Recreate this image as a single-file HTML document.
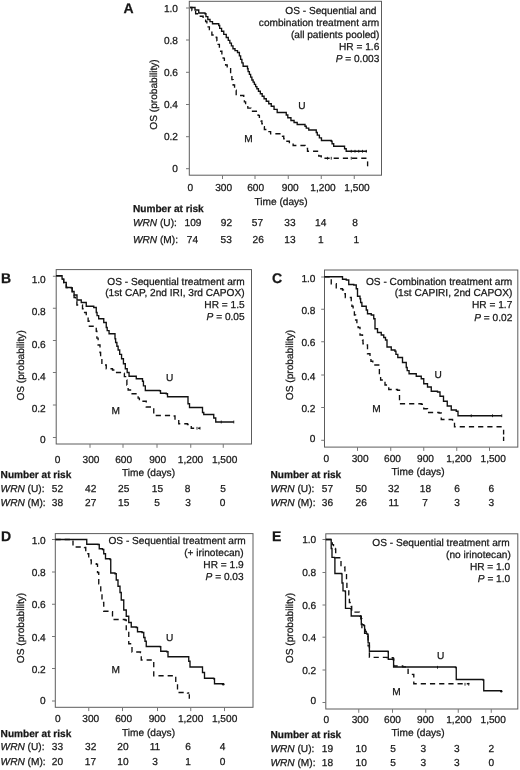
<!DOCTYPE html>
<html lang="en"><head><meta charset="utf-8"><title>OS Kaplan-Meier curves by WRN methylation status</title>
<style>
html,body{margin:0;padding:0;background:#fff;}
svg{display:block;}
svg text{font-family:"Liberation Sans",sans-serif;fill:#171717;stroke:#171717;stroke-width:0.25px;text-rendering:geometricPrecision;}
</style></head><body>
<svg width="520" height="770" viewBox="0 0 520 770">
<rect width="520" height="770" fill="#fff"/>
<rect x="189.3" y="1.3" width="192.2" height="173.89999999999998" fill="none" stroke="#5c5c5c" stroke-width="1"/>
<line x1="186.0" y1="8" x2="189.3" y2="8" stroke="#777" stroke-width="1"/>
<text x="178" y="11.6" text-anchor="end" font-size="10.15" font-weight="normal" >1.0</text>
<line x1="186.0" y1="40" x2="189.3" y2="40" stroke="#777" stroke-width="1"/>
<text x="178" y="43.6" text-anchor="end" font-size="10.15" font-weight="normal" >0.8</text>
<line x1="186.0" y1="72.3" x2="189.3" y2="72.3" stroke="#777" stroke-width="1"/>
<text x="178" y="75.89999999999999" text-anchor="end" font-size="10.15" font-weight="normal" >0.6</text>
<line x1="186.0" y1="104.5" x2="189.3" y2="104.5" stroke="#777" stroke-width="1"/>
<text x="178" y="108.1" text-anchor="end" font-size="10.15" font-weight="normal" >0.4</text>
<line x1="186.0" y1="136.7" x2="189.3" y2="136.7" stroke="#777" stroke-width="1"/>
<text x="178" y="140.29999999999998" text-anchor="end" font-size="10.15" font-weight="normal" >0.2</text>
<line x1="186.0" y1="168.7" x2="189.3" y2="168.7" stroke="#777" stroke-width="1"/>
<text x="178" y="172.29999999999998" text-anchor="end" font-size="10.15" font-weight="normal" >0</text>
<text x="190.3" y="190.5" text-anchor="middle" font-size="10.15" font-weight="normal" >0</text>
<line x1="222.5" y1="175.2" x2="222.5" y2="179.0" stroke="#777" stroke-width="1"/>
<text x="223.7" y="190.5" text-anchor="middle" font-size="10.15" font-weight="normal" >300</text>
<line x1="255" y1="175.2" x2="255" y2="179.0" stroke="#777" stroke-width="1"/>
<text x="255.7" y="190.5" text-anchor="middle" font-size="10.15" font-weight="normal" >600</text>
<line x1="288.25" y1="175.2" x2="288.25" y2="179.0" stroke="#777" stroke-width="1"/>
<text x="290.3" y="190.5" text-anchor="middle" font-size="10.15" font-weight="normal" >900</text>
<line x1="321.25" y1="175.2" x2="321.25" y2="179.0" stroke="#777" stroke-width="1"/>
<text x="323" y="190.5" text-anchor="middle" font-size="10.15" font-weight="normal" >1,200</text>
<line x1="354.25" y1="175.2" x2="354.25" y2="179.0" stroke="#777" stroke-width="1"/>
<text x="357" y="190.5" text-anchor="middle" font-size="10.15" font-weight="normal" >1,500</text>
<text x="281" y="204.5" text-anchor="middle" font-size="10.15" font-weight="normal" >Time (days)</text>
<text transform="translate(157,94.5) rotate(-90)" text-anchor="middle" font-size="10.15">OS (probability)</text>
<text x="123.5" y="13.2" text-anchor="start" font-size="14" font-weight="bold" >A</text>
<text x="379.3" y="13.75" text-anchor="end" font-size="10.15" font-weight="normal" >OS - Sequential and&#160;</text>
<text x="379.3" y="25.75" text-anchor="end" font-size="10.15" font-weight="normal" >combination treatment arm</text>
<text x="379.3" y="38" text-anchor="end" font-size="10.15" font-weight="normal" >(all patients pooled)</text>
<text x="379.3" y="49.75" text-anchor="end" font-size="10.15" font-weight="normal" >HR = 1.6</text>
<text x="379.3" y="61.75" text-anchor="end" font-size="10.15" font-weight="normal" ><tspan font-style="italic">P</tspan> = 0.003</text>
<text x="133" y="211.75" text-anchor="start" font-size="10.1" font-weight="bold" >Number at risk</text>
<text x="133" y="225.5" text-anchor="start" font-size="10.15" font-weight="normal" ><tspan font-style="italic">WRN</tspan> (U):</text>
<text x="193" y="225.5" text-anchor="middle" font-size="10.15" font-weight="normal" >109</text>
<text x="226.5" y="225.5" text-anchor="middle" font-size="10.15" font-weight="normal" >92</text>
<text x="257.5" y="225.5" text-anchor="middle" font-size="10.15" font-weight="normal" >57</text>
<text x="290" y="225.5" text-anchor="middle" font-size="10.15" font-weight="normal" >33</text>
<text x="320.75" y="225.5" text-anchor="middle" font-size="10.15" font-weight="normal" >14</text>
<text x="355" y="225.5" text-anchor="middle" font-size="10.15" font-weight="normal" >8</text>
<text x="133" y="242.5" text-anchor="start" font-size="10.15" font-weight="normal" ><tspan font-style="italic">WRN</tspan> (M):</text>
<text x="192.5" y="242.5" text-anchor="middle" font-size="10.15" font-weight="normal" >74</text>
<text x="226.25" y="242.5" text-anchor="middle" font-size="10.15" font-weight="normal" >53</text>
<text x="258.25" y="242.5" text-anchor="middle" font-size="10.15" font-weight="normal" >26</text>
<text x="290" y="242.5" text-anchor="middle" font-size="10.15" font-weight="normal" >13</text>
<text x="320.75" y="242.5" text-anchor="middle" font-size="10.15" font-weight="normal" >1</text>
<text x="356.25" y="242.5" text-anchor="middle" font-size="10.15" font-weight="normal" >1</text>
<text x="302" y="108.8" text-anchor="middle" font-size="10.15" font-weight="normal" >U</text>
<text x="248.5" y="141.8" text-anchor="middle" font-size="10.15" font-weight="normal" >M</text>
<path d="M190.00,7.50 H195.00 V10.00 H198.75 V13.00 H205.00 V13.75 H205.94 V16.62 H207.81 V19.50 H208.75 H210.00 V21.62 H212.50 V23.75 H213.75 H218.75 V25.50 H219.69 V28.38 H221.56 V31.25 H222.50 H223.75 V34.38 H226.25 V37.50 H227.50 H228.28 V40.31 H229.84 V43.12 H231.41 V45.94 H232.97 V48.75 H233.75 H235.00 V50.62 H237.50 V52.50 H238.75 H239.38 V55.94 H240.62 V59.38 H241.88 V62.81 H243.12 V66.25 H243.75 H247.50 V68.75 H248.12 V71.56 H249.38 V74.38 H250.62 V77.19 H251.88 V80.00 H252.50 H253.12 V82.19 H254.38 V84.38 H255.62 V86.56 H256.88 V88.75 H257.50 H258.44 V91.25 H260.31 V93.75 H262.19 V96.25 H264.06 V98.75 H265.00 H266.25 V101.25 H268.75 V103.75 H271.25 V106.25 H272.50 H274.06 V109.38 H277.19 V112.50 H278.75 H286.25 V115.00 H287.81 V117.75 H290.94 V120.50 H292.50 H294.06 V122.50 H297.19 V124.50 H298.75 H305.00 V126.25 H306.25 V128.12 H308.75 V130.00 H310.00 H316.25 V132.50 H317.29 V135.17 H319.38 V137.83 H321.46 V140.50 H322.50 H331.25 V141.25 H332.06 V143.75 H333.69 V146.25 H334.50 H343.75 V146.25 H344.56 V148.75 H346.19 V151.25 H347.00 H367.00 V151.25" fill="none" stroke="#111" stroke-width="1.35" stroke-linejoin="miter"/>
<path d="M190.00,7.50 H191.88 V10.62 H195.62 V13.75 H197.50 H199.38 V16.25 H203.12 V18.75 H205.00 H205.62 V21.46 H206.88 V24.17 H208.12 V26.88 H209.38 V29.58 H210.62 V32.29 H211.88 V35.00 H212.50 H216.25 V37.50 H216.88 V40.94 H218.12 V44.38 H219.38 V47.81 H220.62 V51.25 H221.25 H221.88 V54.69 H223.12 V58.12 H224.38 V61.56 H225.62 V65.00 H226.25 H227.19 V66.88 H229.06 V68.75 H230.00 H230.62 V74.17 H231.88 V79.58 H233.12 V85.00 H233.75 H234.56 V90.25 H236.19 V95.50 H237.00 H243.75 V98.75 H244.38 V101.88 H245.62 V105.00 H246.25 H247.81 V108.12 H250.94 V111.25 H252.50 H257.50 V112.50 H258.12 V115.31 H259.38 V118.12 H260.62 V120.94 H261.88 V123.75 H262.50 H263.12 V126.62 H264.38 V129.50 H265.00 H266.88 V131.62 H270.62 V133.75 H272.50 H282.50 V136.25 H283.75 V138.75 H286.25 V141.25 H287.50 H289.38 V143.38 H293.12 V145.50 H295.00 H303.75 V145.50 H305.00 V148.38 H307.50 V151.25 H308.75 H317.50 V153.75 H318.75 V156.00 H321.25 V158.25 H322.50 H367.50 V158.25" fill="none" stroke="#111" stroke-width="1.35" stroke-linejoin="miter" stroke-dasharray="5.2 4"/>
<line x1="351.25" y1="149.85" x2="351.25" y2="152.65" stroke="#111" stroke-width="0.9"/>
<line x1="355" y1="149.85" x2="355" y2="152.65" stroke="#111" stroke-width="0.9"/>
<line x1="358.75" y1="149.85" x2="358.75" y2="152.65" stroke="#111" stroke-width="0.9"/>
<line x1="362.5" y1="149.85" x2="362.5" y2="152.65" stroke="#111" stroke-width="0.9"/>
<line x1="366.25" y1="149.85" x2="366.25" y2="152.65" stroke="#111" stroke-width="0.9"/>
<line x1="327.5" y1="156.85" x2="327.5" y2="159.65" stroke="#111" stroke-width="0.9"/>
<line x1="331.25" y1="156.85" x2="331.25" y2="159.65" stroke="#111" stroke-width="0.9"/>
<line x1="351.25" y1="156.85" x2="351.25" y2="159.65" stroke="#111" stroke-width="0.9"/>
<line x1="367.6" y1="161.4" x2="367.6" y2="166.3" stroke="#111" stroke-width="1.35"/>
<rect x="56.2" y="269.6" width="195.3" height="174.39999999999998" fill="none" stroke="#5c5c5c" stroke-width="1"/>
<line x1="52.900000000000006" y1="276.25" x2="56.2" y2="276.25" stroke="#777" stroke-width="1"/>
<text x="45.75" y="283.45000000000005" text-anchor="end" font-size="10.15" font-weight="normal" >1.0</text>
<line x1="52.900000000000006" y1="308.25" x2="56.2" y2="308.25" stroke="#777" stroke-width="1"/>
<text x="45.75" y="315.45000000000005" text-anchor="end" font-size="10.15" font-weight="normal" >0.8</text>
<line x1="52.900000000000006" y1="340.5" x2="56.2" y2="340.5" stroke="#777" stroke-width="1"/>
<text x="45.75" y="347.70000000000005" text-anchor="end" font-size="10.15" font-weight="normal" >0.6</text>
<line x1="52.900000000000006" y1="372.5" x2="56.2" y2="372.5" stroke="#777" stroke-width="1"/>
<text x="45.75" y="379.70000000000005" text-anchor="end" font-size="10.15" font-weight="normal" >0.4</text>
<line x1="52.900000000000006" y1="405" x2="56.2" y2="405" stroke="#777" stroke-width="1"/>
<text x="45.75" y="412.20000000000005" text-anchor="end" font-size="10.15" font-weight="normal" >0.2</text>
<line x1="52.900000000000006" y1="437.5" x2="56.2" y2="437.5" stroke="#777" stroke-width="1"/>
<text x="45.75" y="443.20000000000005" text-anchor="end" font-size="10.15" font-weight="normal" >0</text>
<text x="57.6" y="462.7" text-anchor="middle" font-size="10.15" font-weight="normal" >0</text>
<line x1="90" y1="444" x2="90" y2="447.8" stroke="#777" stroke-width="1"/>
<text x="91" y="462.7" text-anchor="middle" font-size="10.15" font-weight="normal" >300</text>
<line x1="123" y1="444" x2="123" y2="447.8" stroke="#777" stroke-width="1"/>
<text x="123.6" y="462.7" text-anchor="middle" font-size="10.15" font-weight="normal" >600</text>
<line x1="157" y1="444" x2="157" y2="447.8" stroke="#777" stroke-width="1"/>
<text x="157.7" y="462.7" text-anchor="middle" font-size="10.15" font-weight="normal" >900</text>
<line x1="190.75" y1="444" x2="190.75" y2="447.8" stroke="#777" stroke-width="1"/>
<text x="190.5" y="462.7" text-anchor="middle" font-size="10.15" font-weight="normal" >1,200</text>
<line x1="223.25" y1="444" x2="223.25" y2="447.8" stroke="#777" stroke-width="1"/>
<text x="224.6" y="462.7" text-anchor="middle" font-size="10.15" font-weight="normal" >1,500</text>
<text x="148.5" y="476.25" text-anchor="middle" font-size="10.15" font-weight="normal" >Time (days)</text>
<text transform="translate(24.2,365.4) rotate(-90)" text-anchor="middle" font-size="10.15">OS (probability)</text>
<text x="1" y="282.7" text-anchor="start" font-size="14" font-weight="bold" >B</text>
<text x="244.6" y="284.6" text-anchor="end" font-size="10.15" font-weight="normal" >OS - Sequential treatment arm</text>
<text x="244.6" y="296" text-anchor="end" font-size="10.15" font-weight="normal" >(1st CAP, 2nd IRI, 3rd CAPOX)</text>
<text x="244.6" y="308.4" text-anchor="end" font-size="10.15" font-weight="normal" >HR = 1.5</text>
<text x="244.6" y="320.25" text-anchor="end" font-size="10.15" font-weight="normal" ><tspan font-style="italic">P</tspan> = 0.05</text>
<text x="0.6" y="477.5" text-anchor="start" font-size="10.1" font-weight="bold" >Number at risk</text>
<text x="0.6" y="491.7" text-anchor="start" font-size="10.15" font-weight="normal" ><tspan font-style="italic">WRN</tspan> (U):</text>
<text x="57.5" y="491.7" text-anchor="middle" font-size="10.15" font-weight="normal" >52</text>
<text x="90.75" y="491.7" text-anchor="middle" font-size="10.15" font-weight="normal" >42</text>
<text x="123.75" y="491.7" text-anchor="middle" font-size="10.15" font-weight="normal" >25</text>
<text x="157.5" y="491.7" text-anchor="middle" font-size="10.15" font-weight="normal" >15</text>
<text x="187.5" y="491.7" text-anchor="middle" font-size="10.15" font-weight="normal" >8</text>
<text x="223" y="491.7" text-anchor="middle" font-size="10.15" font-weight="normal" >5</text>
<text x="0.6" y="505.5" text-anchor="start" font-size="10.15" font-weight="normal" ><tspan font-style="italic">WRN</tspan> (M):</text>
<text x="57.5" y="505.5" text-anchor="middle" font-size="10.15" font-weight="normal" >38</text>
<text x="90.75" y="505.5" text-anchor="middle" font-size="10.15" font-weight="normal" >27</text>
<text x="123.75" y="505.5" text-anchor="middle" font-size="10.15" font-weight="normal" >15</text>
<text x="157" y="505.5" text-anchor="middle" font-size="10.15" font-weight="normal" >5</text>
<text x="188" y="505.5" text-anchor="middle" font-size="10.15" font-weight="normal" >3</text>
<text x="222.5" y="505.5" text-anchor="middle" font-size="10.15" font-weight="normal" >0</text>
<text x="169.6" y="381.25" text-anchor="middle" font-size="10.15" font-weight="normal" >U</text>
<text x="115.7" y="413.75" text-anchor="middle" font-size="10.15" font-weight="normal" >M</text>
<path d="M56.25,275.75 H61.25 V275.75 H62.06 V279.12 H63.69 V282.50 H64.50 H66.25 V287.50 H71.25 V288.00 H72.19 V291.50 H74.06 V295.00 H75.00 H77.00 V300.00 H81.25 V302.50 H86.25 V306.25 H93.75 V307.50 H96.25 V312.50 H97.06 V315.62 H98.69 V318.75 H99.50 H103.75 V322.50 H106.25 V327.50 H107.19 V330.62 H109.06 V333.75 H110.00 H115.00 V338.75 H115.62 V342.50 H116.88 V346.25 H118.12 V350.00 H118.75 H119.69 V354.38 H121.56 V358.75 H122.50 H123.44 V363.75 H125.31 V368.75 H126.25 H127.19 V372.50 H129.06 V376.25 H130.00 H136.25 V378.75 H142.50 V381.25 H143.44 V385.88 H145.31 V390.50 H146.25 H159.50 V390.75 H160.50 V393.25 H166.25 V393.75 H167.50 V396.75 H187.00 V396.75 H188.00 V403.75 H189.50 V407.50 H200.75 V407.50 H202.50 V412.50 H203.75 V414.50 H212.50 V414.50 H213.75 V418.00 H215.75 V422.00 H233.75 V422.00" fill="none" stroke="#111" stroke-width="1.35" stroke-linejoin="miter"/>
<path d="M56.25,275.75 H61.25 V275.75 H62.06 V279.12 H63.69 V282.50 H64.50 H66.25 V287.50 H71.25 V288.00 H72.19 V292.75 H74.06 V297.50 H75.00 H75.62 V301.25 H76.88 V305.00 H77.50 H82.50 V308.75 H83.75 V312.50 H86.25 V316.25 H87.50 H88.12 V321.25 H89.38 V326.25 H90.00 H96.25 V331.25 H96.88 V338.12 H98.12 V345.00 H98.75 H100.00 V352.50 H100.62 V358.75 H101.88 V365.00 H102.50 H106.25 V368.75 H112.50 V370.00 H113.75 V372.50 H123.75 V373.25 H124.38 V376.62 H125.62 V380.00 H126.25 H126.88 V385.00 H128.12 V390.00 H128.75 H131.25 V393.75 H137.50 V395.00 H138.12 V398.12 H139.38 V401.25 H140.00 H146.25 V407.00 H152.50 V407.50 H153.75 V415.50 H172.50 V416.00 H175.00 V420.00 H178.75 V423.75 H187.50 V424.50 H191.25 V428.25 H200.00 V428.25" fill="none" stroke="#111" stroke-width="1.35" stroke-linejoin="miter" stroke-dasharray="5.2 4"/>
<line x1="221.25" y1="420.6" x2="221.25" y2="423.4" stroke="#111" stroke-width="0.9"/>
<line x1="233.75" y1="420.6" x2="233.75" y2="423.4" stroke="#111" stroke-width="0.9"/>
<line x1="197" y1="426.85" x2="197" y2="429.65" stroke="#111" stroke-width="0.9"/>
<line x1="200" y1="426.85" x2="200" y2="429.65" stroke="#111" stroke-width="0.9"/>
<rect x="324.5" y="270" width="193.29999999999995" height="177.10000000000002" fill="none" stroke="#5c5c5c" stroke-width="1"/>
<line x1="321.2" y1="277" x2="324.5" y2="277" stroke="#777" stroke-width="1"/>
<text x="315.5" y="281.6" text-anchor="end" font-size="10.15" font-weight="normal" >1.0</text>
<line x1="321.2" y1="309.25" x2="324.5" y2="309.25" stroke="#777" stroke-width="1"/>
<text x="315.5" y="313.85" text-anchor="end" font-size="10.15" font-weight="normal" >0.8</text>
<line x1="321.2" y1="341.75" x2="324.5" y2="341.75" stroke="#777" stroke-width="1"/>
<text x="315.5" y="346.35" text-anchor="end" font-size="10.15" font-weight="normal" >0.6</text>
<line x1="321.2" y1="375" x2="324.5" y2="375" stroke="#777" stroke-width="1"/>
<text x="315.5" y="379.6" text-anchor="end" font-size="10.15" font-weight="normal" >0.4</text>
<line x1="321.2" y1="407.5" x2="324.5" y2="407.5" stroke="#777" stroke-width="1"/>
<text x="315.5" y="412.1" text-anchor="end" font-size="10.15" font-weight="normal" >0.2</text>
<line x1="321.2" y1="440.3" x2="324.5" y2="440.3" stroke="#777" stroke-width="1"/>
<text x="315.5" y="442.40000000000003" text-anchor="end" font-size="10.15" font-weight="normal" >0</text>
<text x="326.2" y="462" text-anchor="middle" font-size="10.15" font-weight="normal" >0</text>
<line x1="357.5" y1="447.1" x2="357.5" y2="450.90000000000003" stroke="#777" stroke-width="1"/>
<text x="360.1" y="462" text-anchor="middle" font-size="10.15" font-weight="normal" >300</text>
<line x1="390.75" y1="447.1" x2="390.75" y2="450.90000000000003" stroke="#777" stroke-width="1"/>
<text x="392.5" y="462" text-anchor="middle" font-size="10.15" font-weight="normal" >600</text>
<line x1="423.75" y1="447.1" x2="423.75" y2="450.90000000000003" stroke="#777" stroke-width="1"/>
<text x="425.5" y="462" text-anchor="middle" font-size="10.15" font-weight="normal" >900</text>
<line x1="456.75" y1="447.1" x2="456.75" y2="450.90000000000003" stroke="#777" stroke-width="1"/>
<text x="458.9" y="462" text-anchor="middle" font-size="10.15" font-weight="normal" >1,200</text>
<line x1="489.5" y1="447.1" x2="489.5" y2="450.90000000000003" stroke="#777" stroke-width="1"/>
<text x="493.2" y="462" text-anchor="middle" font-size="10.15" font-weight="normal" >1,500</text>
<text x="418" y="475" text-anchor="middle" font-size="10.15" font-weight="normal" >Time (days)</text>
<text transform="translate(292.7,365) rotate(-90)" text-anchor="middle" font-size="10.15">OS (probability)</text>
<text x="272" y="283" text-anchor="start" font-size="14" font-weight="bold" >C</text>
<text x="512.3" y="284.5" text-anchor="end" font-size="10.15" font-weight="normal" >OS - Combination treatment arm</text>
<text x="512.3" y="296.25" text-anchor="end" font-size="10.15" font-weight="normal" >(1st CAPIRI, 2nd CAPOX)</text>
<text x="512.3" y="308.25" text-anchor="end" font-size="10.15" font-weight="normal" >HR = 1.7</text>
<text x="512.3" y="320.75" text-anchor="end" font-size="10.15" font-weight="normal" ><tspan font-style="italic">P</tspan> = 0.02</text>
<text x="270.5" y="477.5" text-anchor="start" font-size="10.1" font-weight="bold" >Number at risk</text>
<text x="270.5" y="491.7" text-anchor="start" font-size="10.15" font-weight="normal" ><tspan font-style="italic">WRN</tspan> (U):</text>
<text x="327.5" y="491.7" text-anchor="middle" font-size="10.15" font-weight="normal" >57</text>
<text x="361.25" y="491.7" text-anchor="middle" font-size="10.15" font-weight="normal" >50</text>
<text x="393.75" y="491.7" text-anchor="middle" font-size="10.15" font-weight="normal" >32</text>
<text x="425.5" y="491.7" text-anchor="middle" font-size="10.15" font-weight="normal" >18</text>
<text x="457" y="491.7" text-anchor="middle" font-size="10.15" font-weight="normal" >6</text>
<text x="491.25" y="491.7" text-anchor="middle" font-size="10.15" font-weight="normal" >6</text>
<text x="270.5" y="505.5" text-anchor="start" font-size="10.15" font-weight="normal" ><tspan font-style="italic">WRN</tspan> (M):</text>
<text x="327.5" y="505.5" text-anchor="middle" font-size="10.15" font-weight="normal" >36</text>
<text x="361.25" y="505.5" text-anchor="middle" font-size="10.15" font-weight="normal" >26</text>
<text x="393.75" y="505.5" text-anchor="middle" font-size="10.15" font-weight="normal" >11</text>
<text x="425" y="505.5" text-anchor="middle" font-size="10.15" font-weight="normal" >7</text>
<text x="457" y="505.5" text-anchor="middle" font-size="10.15" font-weight="normal" >3</text>
<text x="491.25" y="505.5" text-anchor="middle" font-size="10.15" font-weight="normal" >3</text>
<text x="438.2" y="377.5" text-anchor="middle" font-size="10.15" font-weight="normal" >U</text>
<text x="376.5" y="411.75" text-anchor="middle" font-size="10.15" font-weight="normal" >M</text>
<path d="M324.50,276.75 H341.25 V276.75 H342.50 V279.25 H346.25 V280.00 H348.75 V284.50 H353.75 V285.00 H356.25 V288.75 H357.50 V296.25 H360.00 V298.75 H360.62 V302.50 H361.88 V306.25 H362.50 H366.25 V310.00 H367.50 V313.75 H371.25 V315.00 H373.75 V318.75 H375.00 V328.75 H377.50 V332.50 H381.25 V335.00 H383.75 V337.50 H385.50 V340.00 H387.00 V347.00 H391.25 V350.00 H395.00 V351.25 H395.94 V354.38 H397.81 V357.50 H398.75 H402.50 V362.50 H406.25 V367.50 H407.19 V370.62 H409.06 V373.75 H410.00 H416.25 V376.25 H421.25 V378.75 H423.75 V383.75 H427.50 V387.00 H431.25 V391.25 H437.50 V392.00 H440.00 V396.25 H443.50 V401.25 H447.25 V406.00 H451.25 V410.00 H456.25 V411.25 H458.00 V415.75 H501.75 V415.75" fill="none" stroke="#111" stroke-width="1.35" stroke-linejoin="miter"/>
<path d="M324.50,276.75 H330.00 V278.00 H331.25 V283.75 H336.25 V288.75 H342.50 V290.00 H343.44 V293.75 H345.31 V297.50 H346.25 H351.25 V302.50 H351.88 V306.25 H353.12 V310.00 H353.75 H354.38 V315.00 H355.62 V320.00 H356.25 H356.88 V323.75 H358.12 V327.50 H358.75 H360.00 V335.00 H362.50 V340.00 H363.00 V343.75 H366.25 V345.00 H367.50 V353.75 H370.00 V357.50 H370.94 V361.25 H372.81 V365.00 H373.75 H378.75 V368.75 H379.38 V374.38 H380.62 V380.00 H381.25 H385.00 V385.00 H388.75 V389.50 H397.50 V390.20 H399.50 V403.75 H421.25 V404.25 H423.75 V408.75 H427.50 V412.50 H439.00 V413.00 H441.25 V419.50 H452.50 V420.00 H454.50 V426.75 H503.40 V426.75" fill="none" stroke="#111" stroke-width="1.35" stroke-linejoin="miter" stroke-dasharray="5.2 4"/>
<line x1="471.25" y1="414.35" x2="471.25" y2="417.15" stroke="#111" stroke-width="0.9"/>
<line x1="492.5" y1="414.35" x2="492.5" y2="417.15" stroke="#111" stroke-width="0.9"/>
<line x1="501.75" y1="414.35" x2="501.75" y2="417.15" stroke="#111" stroke-width="0.9"/>
<line x1="503.6" y1="429.8" x2="503.6" y2="441" stroke="#111" stroke-width="1.35" stroke-dasharray="4.8 2.2"/>
<rect x="55.3" y="533.6" width="197.7" height="173.69999999999993" fill="none" stroke="#5c5c5c" stroke-width="1"/>
<line x1="52.0" y1="539.5" x2="55.3" y2="539.5" stroke="#777" stroke-width="1"/>
<text x="45.75" y="543.5" text-anchor="end" font-size="10.15" font-weight="normal" >1.0</text>
<line x1="52.0" y1="572" x2="55.3" y2="572" stroke="#777" stroke-width="1"/>
<text x="45.75" y="576.0" text-anchor="end" font-size="10.15" font-weight="normal" >0.8</text>
<line x1="52.0" y1="604.25" x2="55.3" y2="604.25" stroke="#777" stroke-width="1"/>
<text x="45.75" y="608.25" text-anchor="end" font-size="10.15" font-weight="normal" >0.6</text>
<line x1="52.0" y1="636.5" x2="55.3" y2="636.5" stroke="#777" stroke-width="1"/>
<text x="45.75" y="640.5" text-anchor="end" font-size="10.15" font-weight="normal" >0.4</text>
<line x1="52.0" y1="668.5" x2="55.3" y2="668.5" stroke="#777" stroke-width="1"/>
<text x="45.75" y="672.5" text-anchor="end" font-size="10.15" font-weight="normal" >0.2</text>
<line x1="52.0" y1="701" x2="55.3" y2="701" stroke="#777" stroke-width="1"/>
<text x="45.75" y="703.5" text-anchor="end" font-size="10.15" font-weight="normal" >0</text>
<text x="57.7" y="722" text-anchor="middle" font-size="10.15" font-weight="normal" >0</text>
<line x1="88.75" y1="707.3" x2="88.75" y2="711.0999999999999" stroke="#777" stroke-width="1"/>
<text x="90.8" y="722" text-anchor="middle" font-size="10.15" font-weight="normal" >300</text>
<line x1="122.5" y1="707.3" x2="122.5" y2="711.0999999999999" stroke="#777" stroke-width="1"/>
<text x="123.6" y="722" text-anchor="middle" font-size="10.15" font-weight="normal" >600</text>
<line x1="157.5" y1="707.3" x2="157.5" y2="711.0999999999999" stroke="#777" stroke-width="1"/>
<text x="157.2" y="722" text-anchor="middle" font-size="10.15" font-weight="normal" >900</text>
<line x1="190.75" y1="707.3" x2="190.75" y2="711.0999999999999" stroke="#777" stroke-width="1"/>
<text x="190.6" y="722" text-anchor="middle" font-size="10.15" font-weight="normal" >1,200</text>
<line x1="224.5" y1="707.3" x2="224.5" y2="711.0999999999999" stroke="#777" stroke-width="1"/>
<text x="224.6" y="722" text-anchor="middle" font-size="10.15" font-weight="normal" >1,500</text>
<text x="148.5" y="735.8" text-anchor="middle" font-size="10.15" font-weight="normal" >Time (days)</text>
<text transform="translate(24.4,628) rotate(-90)" text-anchor="middle" font-size="10.15">OS (probability)</text>
<text x="1" y="540.6" text-anchor="start" font-size="14" font-weight="bold" >D</text>
<text x="245.8" y="543.75" text-anchor="end" font-size="10.15" font-weight="normal" >OS - Sequential treatment arm</text>
<text x="243.6" y="555.75" text-anchor="end" font-size="10.15" font-weight="normal" >(+ irinotecan)</text>
<text x="243.6" y="567.6" text-anchor="end" font-size="10.15" font-weight="normal" >HR = 1.9</text>
<text x="243.6" y="580" text-anchor="end" font-size="10.15" font-weight="normal" ><tspan font-style="italic">P</tspan> = 0.03</text>
<text x="0.6" y="736.6" text-anchor="start" font-size="10.1" font-weight="bold" >Number at risk</text>
<text x="0.6" y="750.4" text-anchor="start" font-size="10.15" font-weight="normal" ><tspan font-style="italic">WRN</tspan> (U):</text>
<text x="57.5" y="750.4" text-anchor="middle" font-size="10.15" font-weight="normal" >33</text>
<text x="90.75" y="750.4" text-anchor="middle" font-size="10.15" font-weight="normal" >32</text>
<text x="123" y="750.4" text-anchor="middle" font-size="10.15" font-weight="normal" >20</text>
<text x="155" y="750.4" text-anchor="middle" font-size="10.15" font-weight="normal" >11</text>
<text x="188" y="750.4" text-anchor="middle" font-size="10.15" font-weight="normal" >6</text>
<text x="222.5" y="750.4" text-anchor="middle" font-size="10.15" font-weight="normal" >4</text>
<text x="0.6" y="764.9" text-anchor="start" font-size="10.15" font-weight="normal" ><tspan font-style="italic">WRN</tspan> (M):</text>
<text x="57.5" y="764.9" text-anchor="middle" font-size="10.15" font-weight="normal" >20</text>
<text x="90.5" y="764.9" text-anchor="middle" font-size="10.15" font-weight="normal" >17</text>
<text x="123" y="764.9" text-anchor="middle" font-size="10.15" font-weight="normal" >10</text>
<text x="155" y="764.9" text-anchor="middle" font-size="10.15" font-weight="normal" >3</text>
<text x="188" y="764.9" text-anchor="middle" font-size="10.15" font-weight="normal" >1</text>
<text x="222.5" y="764.9" text-anchor="middle" font-size="10.15" font-weight="normal" >0</text>
<text x="169.7" y="640.6" text-anchor="middle" font-size="10.15" font-weight="normal" >U</text>
<text x="115.7" y="673" text-anchor="middle" font-size="10.15" font-weight="normal" >M</text>
<path d="M55.50,539.50 H86.25 V539.50 H86.75 V544.25 H98.00 V544.50 H99.25 V548.75 H102.50 V549.50 H103.75 V553.75 H105.50 V558.75 H110.00 V559.50 H110.75 V573.00 H115.00 V573.75 H116.25 V580.00 H118.00 V586.25 H120.00 V592.50 H121.25 V600.00 H123.75 V610.00 H126.25 V616.25 H128.75 V622.50 H131.25 V627.00 H136.25 V627.50 H137.50 V631.75 H142.00 V632.50 H143.75 V637.50 H145.00 V641.25 H146.25 V646.50 H160.00 V646.75 H160.75 V651.25 H166.75 V651.75 H168.00 V656.75 H187.00 V656.75 H188.75 V661.25 H190.00 V667.00 H201.25 V667.00 H202.50 V672.50 H204.50 V678.25 H213.75 V678.75 H214.50 V683.75 H223.25 V684.25" fill="none" stroke="#111" stroke-width="1.35" stroke-linejoin="miter"/>
<path d="M55.50,539.50 H72.50 V539.50 H73.00 V547.00 H84.50 V547.50 H85.75 V553.75 H88.75 V560.00 H91.25 V563.75 H96.25 V564.25 H97.50 V572.50 H98.75 V583.75 H100.75 V592.50 H102.00 V602.50 H103.75 V611.25 H111.25 V611.75 H112.50 V619.50 H125.00 V620.00 H126.25 V632.50 H128.75 V643.75 H131.25 V644.50 H132.00 V652.00 H140.50 V652.50 H141.25 V660.00 H153.00 V660.50 H153.75 V675.75 H174.25 V676.50 H175.75 V683.75 H177.50 V692.50 H187.50 V693.00 H189.25 V693.00" fill="none" stroke="#111" stroke-width="1.35" stroke-linejoin="miter" stroke-dasharray="5.2 4"/>
<circle cx="223.25" cy="684.25" r="1.3" fill="#111"/>
<line x1="189.3" y1="694.2" x2="189.3" y2="698.8" stroke="#111" stroke-width="1.35"/>
<rect x="325.8" y="533.8" width="191.99999999999994" height="175.20000000000005" fill="none" stroke="#5c5c5c" stroke-width="1"/>
<line x1="322.5" y1="539.5" x2="325.8" y2="539.5" stroke="#777" stroke-width="1"/>
<text x="316.25" y="543.1" text-anchor="end" font-size="10.15" font-weight="normal" >1.0</text>
<line x1="322.5" y1="572.5" x2="325.8" y2="572.5" stroke="#777" stroke-width="1"/>
<text x="316.25" y="576.1" text-anchor="end" font-size="10.15" font-weight="normal" >0.8</text>
<line x1="322.5" y1="605" x2="325.8" y2="605" stroke="#777" stroke-width="1"/>
<text x="316.25" y="608.6" text-anchor="end" font-size="10.15" font-weight="normal" >0.6</text>
<line x1="322.5" y1="637.2" x2="325.8" y2="637.2" stroke="#777" stroke-width="1"/>
<text x="316.25" y="640.8000000000001" text-anchor="end" font-size="10.15" font-weight="normal" >0.4</text>
<line x1="322.5" y1="670" x2="325.8" y2="670" stroke="#777" stroke-width="1"/>
<text x="316.25" y="673.6" text-anchor="end" font-size="10.15" font-weight="normal" >0.2</text>
<line x1="322.5" y1="702.5" x2="325.8" y2="702.5" stroke="#777" stroke-width="1"/>
<text x="316.25" y="704.0" text-anchor="end" font-size="10.15" font-weight="normal" >0</text>
<text x="326.2" y="723.3" text-anchor="middle" font-size="10.15" font-weight="normal" >0</text>
<line x1="358.75" y1="709" x2="358.75" y2="712.8" stroke="#777" stroke-width="1"/>
<text x="360.1" y="723.3" text-anchor="middle" font-size="10.15" font-weight="normal" >300</text>
<line x1="392.5" y1="709" x2="392.5" y2="712.8" stroke="#777" stroke-width="1"/>
<text x="392.5" y="723.3" text-anchor="middle" font-size="10.15" font-weight="normal" >600</text>
<line x1="425.75" y1="709" x2="425.75" y2="712.8" stroke="#777" stroke-width="1"/>
<text x="425.5" y="723.3" text-anchor="middle" font-size="10.15" font-weight="normal" >900</text>
<line x1="458.25" y1="709" x2="458.25" y2="712.8" stroke="#777" stroke-width="1"/>
<text x="458.9" y="723.3" text-anchor="middle" font-size="10.15" font-weight="normal" >1,200</text>
<line x1="491.25" y1="709" x2="491.25" y2="712.8" stroke="#777" stroke-width="1"/>
<text x="493.2" y="723.3" text-anchor="middle" font-size="10.15" font-weight="normal" >1,500</text>
<text x="418" y="735.5" text-anchor="middle" font-size="10.15" font-weight="normal" >Time (days)</text>
<text transform="translate(292.7,628) rotate(-90)" text-anchor="middle" font-size="10.15">OS (probability)</text>
<text x="272" y="540.6" text-anchor="start" font-size="14" font-weight="bold" >E</text>
<text x="509.6" y="545.75" text-anchor="end" font-size="10.15" font-weight="normal" >OS - Sequential treatment arm</text>
<text x="510.8" y="558" text-anchor="end" font-size="10.15" font-weight="normal" >(no irinotecan)</text>
<text x="510.2" y="570" text-anchor="end" font-size="10.15" font-weight="normal" >HR = 1.0</text>
<text x="510.2" y="582" text-anchor="end" font-size="10.15" font-weight="normal" ><tspan font-style="italic">P</tspan> = 1.0</text>
<text x="270.5" y="738.25" text-anchor="start" font-size="10.1" font-weight="bold" >Number at risk</text>
<text x="270.5" y="751.75" text-anchor="start" font-size="10.15" font-weight="normal" ><tspan font-style="italic">WRN</tspan> (U):</text>
<text x="327.5" y="751.75" text-anchor="middle" font-size="10.15" font-weight="normal" >19</text>
<text x="361.25" y="751.75" text-anchor="middle" font-size="10.15" font-weight="normal" >10</text>
<text x="393" y="751.75" text-anchor="middle" font-size="10.15" font-weight="normal" >5</text>
<text x="423.25" y="751.75" text-anchor="middle" font-size="10.15" font-weight="normal" >3</text>
<text x="456.75" y="751.75" text-anchor="middle" font-size="10.15" font-weight="normal" >3</text>
<text x="491.25" y="751.75" text-anchor="middle" font-size="10.15" font-weight="normal" >2</text>
<text x="270.5" y="766.25" text-anchor="start" font-size="10.15" font-weight="normal" ><tspan font-style="italic">WRN</tspan> (M):</text>
<text x="327.5" y="766.25" text-anchor="middle" font-size="10.15" font-weight="normal" >18</text>
<text x="361.25" y="766.25" text-anchor="middle" font-size="10.15" font-weight="normal" >10</text>
<text x="393" y="766.25" text-anchor="middle" font-size="10.15" font-weight="normal" >5</text>
<text x="423.25" y="766.25" text-anchor="middle" font-size="10.15" font-weight="normal" >3</text>
<text x="456.75" y="766.25" text-anchor="middle" font-size="10.15" font-weight="normal" >3</text>
<text x="491.25" y="766.25" text-anchor="middle" font-size="10.15" font-weight="normal" >0</text>
<text x="440.6" y="658.75" text-anchor="middle" font-size="10.15" font-weight="normal" >U</text>
<text x="396.5" y="695" text-anchor="middle" font-size="10.15" font-weight="normal" >M</text>
<path d="M325.80,539.50 H330.60 V539.50 H331.20 V548.50 H332.00 V557.40 H334.60 V557.70 H334.90 V573.50 H341.50 V573.80 H342.00 V583.00 H343.00 V590.80 H345.20 V591.50 H345.50 V608.30 H350.80 V608.70 H351.20 V616.00 H360.00 V616.30 H361.30 V624.60 H363.80 V625.60 H364.60 V633.30 H367.10 V634.20 H368.10 V642.90 H369.40 V651.20 H387.70 V651.50 H388.30 V659.20 H392.90 V659.50 H393.60 V667.00 H455.50 V667.50 H456.25 V679.50 H483.00 V680.00 H483.75 V690.75 H501.25 V691.25" fill="none" stroke="#111" stroke-width="1.35" stroke-linejoin="miter"/>
<path d="M325.80,539.50 H331.50 V540.00 H332.30 V544.60 H333.50 V548.50 H335.40 V549.20 H335.70 V557.70 H340.80 V558.50 H341.00 V566.50 H344.60 V567.00 H344.90 V574.60 H346.50 V580.80 H346.90 V590.80 H348.80 V594.80 H349.40 V602.50 H351.20 V606.30 H351.70 V612.10 H359.40 V612.50 H360.80 V618.80 H361.90 V629.40 H365.20 V631.30 H366.20 V636.20 H368.10 V645.80 H369.40 V657.30 H387.30 V657.70 H393.10 V658.30 H393.70 V666.00 H402.70 V666.90 H407.50 V667.90 H408.10 V674.30 H413.30 V674.50 H413.80 V683.75 H468.75 V684.25" fill="none" stroke="#111" stroke-width="1.35" stroke-linejoin="miter" stroke-dasharray="5.2 4"/>
<line x1="437.5" y1="665.9" x2="437.5" y2="668.6999999999999" stroke="#111" stroke-width="0.9"/>
<line x1="465" y1="682.85" x2="465" y2="685.65" stroke="#111" stroke-width="0.9"/>
<line x1="468.75" y1="682.85" x2="468.75" y2="685.65" stroke="#111" stroke-width="0.9"/>
<circle cx="501.25" cy="691.25" r="1.2" fill="#111"/>
</svg>
</body></html>
